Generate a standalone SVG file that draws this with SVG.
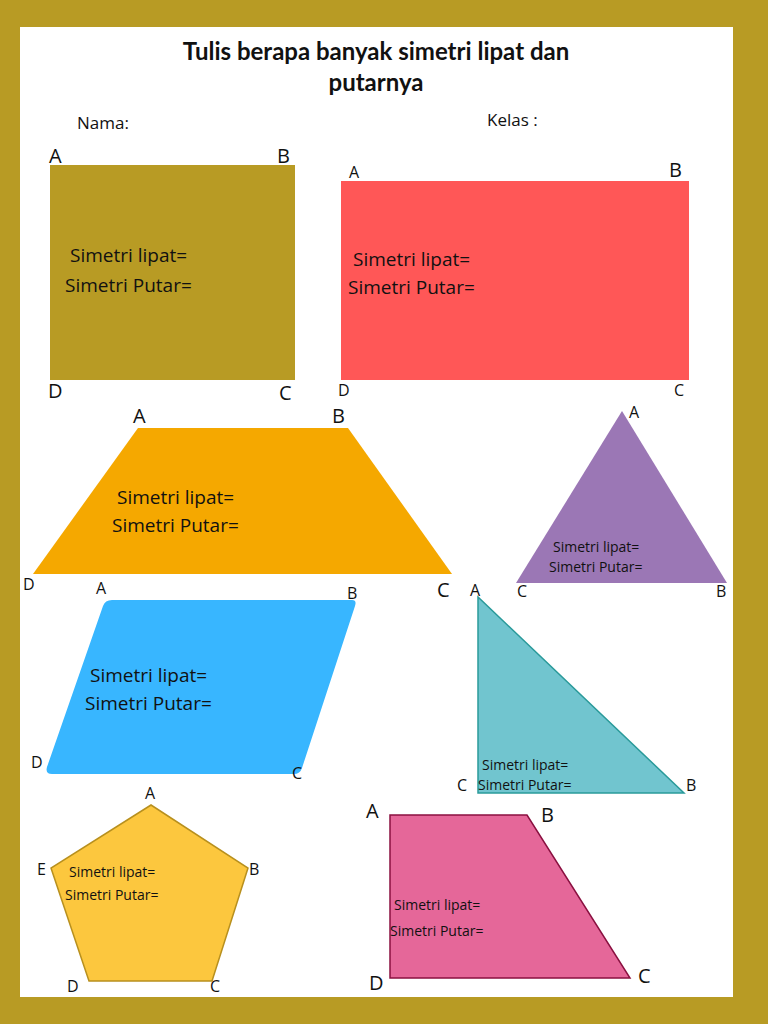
<svg xmlns="http://www.w3.org/2000/svg" width="768" height="1024" viewBox="0 0 768 1024">
<style>
.t{font-family:"Open Sans","Noto Sans",sans-serif;fill:#111}
.l{font-size:19px}.s{font-size:14px}.v{font-size:20px}.vs{font-size:16px}
.h{font-family:"Lato","Liberation Sans",sans-serif;font-weight:bold;font-size:24px;fill:#111}
</style>
<rect width="768" height="1024" fill="#B89B24"/>
<rect x="20" y="27" width="713" height="970" fill="#fff"/>
<text class="h" x="376" y="60" text-anchor="middle">Tulis berapa  banyak simetri lipat dan</text>
<text class="h" x="376" y="91" text-anchor="middle">putarnya</text>
<text class="t" x="77" y="129" font-size="17">Nama:</text>
<text class="t" x="487" y="126" font-size="17">Kelas  :</text>

<g id="square">
<rect x="50" y="165" width="245" height="215" fill="#B89B24"/>
<text class="t l" x="70" y="262">Simetri lipat=</text>
<text class="t l" x="65" y="292">Simetri Putar=</text>
<text class="t v" x="49" y="163">A</text><text class="t v" x="277" y="163">B</text>
<text class="t v" x="48" y="398">D</text><text class="t v" x="279" y="400">C</text>
</g>
<g id="rectangle">
<rect x="341" y="181" width="348" height="199" fill="#FF5757"/>
<text class="t l" x="353" y="266">Simetri lipat=</text>
<text class="t l" x="348" y="294">Simetri Putar=</text>
<text class="t vs" x="349" y="178">A</text><text class="t v" x="669" y="177">B</text>
<text class="t vs" x="338" y="396">D</text><text class="t vs" x="674" y="396">C</text>
</g>
<g id="trapezoid">
<polygon points="138,428 348,428 452,574 33,574" fill="#F5A800"/>
<text class="t l" x="117" y="504">Simetri lipat=</text>
<text class="t l" x="112" y="532">Simetri Putar=</text>
<text class="t v" x="133" y="423">A</text><text class="t v" x="332" y="423">B</text>
<text class="t vs" x="23" y="590">D</text><text class="t v" x="437" y="597">C</text>
</g>
<g id="triangle">
<polygon points="622,411 727,583 516,583" fill="#9B77B5"/>
<text class="t s" x="553" y="552">Simetri lipat=</text>
<text class="t s" x="549" y="572">Simetri Putar=</text>
<text class="t vs" x="629" y="418">A</text><text class="t vs" x="517" y="597">C</text><text class="t vs" x="716" y="597">B</text>
</g>
<g id="parallelogram">
<path d="M112,600 H352 Q357,600 355,606 L302,768 Q300,774 294,774 H52 Q45,774 47,767 L103,606 Q105,600 112,600 Z" fill="#38B6FF"/>
<text class="t l" x="90" y="682">Simetri lipat=</text>
<text class="t l" x="85" y="710">Simetri Putar=</text>
<text class="t vs" x="96" y="594">A</text><text class="t vs" x="347" y="599">B</text>
<text class="t vs" x="31" y="768">D</text><text class="t vs" x="292" y="779">C</text>
</g>
<g id="righttriangle">
<polygon points="478,597 478,793 684,793" fill="#71C5CF" stroke="#2a9a9a" stroke-width="1.5"/>
<text class="t s" x="482" y="770">Simetri lipat=</text>
<text class="t s" x="478" y="790">Simetri Putar=</text>
<text class="t vs" x="470" y="596">A</text><text class="t vs" x="457" y="791">C</text><text class="t vs" x="686" y="791">B</text>
</g>
<g id="pentagon">
<polygon points="151,805 248,868 212,981 89,981 51,868" fill="#FCC73E" stroke="#B8901E" stroke-width="1.5"/>
<text class="t s" x="69" y="877">Simetri lipat=</text>
<text class="t s" x="65" y="900">Simetri Putar=</text>
<text class="t vs" x="145" y="799">A</text><text class="t vs" x="249" y="875">B</text>
<text class="t vs" x="37" y="875">E</text><text class="t vs" x="67" y="992">D</text><text class="t vs" x="210" y="992">C</text>
</g>
<g id="pinktrapezoid">
<polygon points="390,815 527,815 630,978 390,978" fill="#E56799" stroke="#8a1040" stroke-width="1.5"/>
<text class="t s" x="394" y="910" font-size="17">Simetri lipat=</text>
<text class="t s" x="390" y="936" font-size="17">Simetri Putar=</text>
<text class="t v" x="366" y="818">A</text><text class="t v" x="541" y="822">B</text>
<text class="t v" x="369" y="990">D</text><text class="t v" x="638" y="983">C</text>
</g>
</svg>
